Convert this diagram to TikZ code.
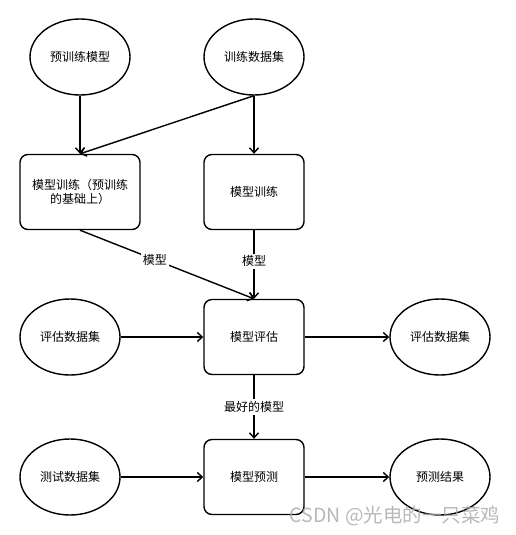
\documentclass[tikz,border=0pt]{standalone}
\usepackage{fontspec}
\setmainfont{Noto Sans CJK SC}
\usetikzlibrary{shapes.geometric,arrows.meta}
\tikzset{>={Straight Barb[length=5pt,width=9pt]}}

\begin{document}
\begin{tikzpicture}[x=1pt,y=-1pt,line width=1.4pt,
  font=\fontsize{12}{14}\selectfont,
  data/.style={draw,ellipse,minimum width=100pt,minimum height=76pt,inner sep=0pt},
  proc/.style={draw,rounded corners=8pt,minimum width=100pt,minimum height=75pt,align=center},
  lab/.style={fill=white,inner sep=2pt}]
\useasboundingbox (0,0) rectangle (516,535);
\node[data] (pre) at (80,57) {预训练模型};
\node[data] (train) at (254,57) {训练数据集};
\node[proc,minimum width=120pt] (ft) at (80,192) {模型训练（预训练\\的基础上）};
\node[proc] (fit) at (254,192) {模型训练};
\node[proc] (eval) at (254,337) {模型评估};
\node[data] (evin) at (70,337) {评估数据集};
\node[data] (evout) at (440,337) {评估数据集};
\node[proc] (pred) at (254,477) {模型预测};
\node[data] (test) at (70,477) {测试数据集};
\node[data] (res) at (440,477) {预测结果};
\draw[->] (pre) -- (ft);
\draw[->] (train.south) -- (ft.north);
\draw[->] (train) -- (fit);
\draw[->] (ft.south) -- node[lab,pos=.43] {模型} (eval.north);
\draw[->] (fit) -- node[lab,pos=.45] {模型} (eval);
\draw[->] (evin) -- (eval);
\draw[->] (eval) -- (evout);
\draw[->] (eval) -- node[lab] {最好的模型} (pred);
\draw[->] (test) -- (pred);
\draw[->] (pred) -- (res);
% watermark
\node[text=black!35,text opacity=.8,font=\fontsize{19.5}{22}\selectfont] (mark) at (395,516) {CSDN @光电的一只菜鸡};
\end{tikzpicture}
\end{document}
